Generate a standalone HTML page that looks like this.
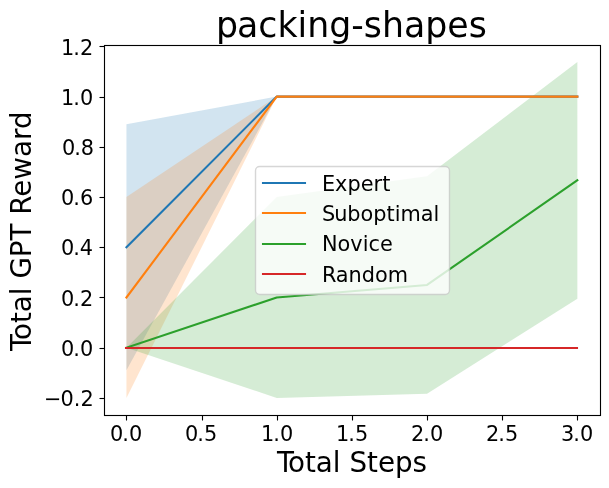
<!DOCTYPE html>
<html lang="en">
<head>
<meta charset="utf-8">
<title>packing-shapes</title>
<style>
html,body{margin:0;padding:0;background:#fff;overflow:hidden;}
svg{display:block;}
text{font-family:"DejaVu Sans","Liberation Sans",sans-serif;fill:#000;}
.tk{font-size:20.8333px;}
.lb{font-size:27.7778px;}
.tt{font-size:34.7222px;}
.sp{stroke:#000;stroke-width:1.111;fill:none;}
.ln{fill:none;stroke-width:2.083;stroke-linecap:square;stroke-linejoin:round;}
</style>
</head>
<body>
<svg width="609" height="488" viewBox="0 0 609 488">
<rect x="0" y="0" width="609" height="488" fill="#fff"/>
<clipPath id="axclip"><rect x="104" y="45" width="496" height="370"/></clipPath>
<g clip-path="url(#axclip)">
 <polygon points="126.448,124.240 126.448,370.275 276.751,96.593" fill="#1f77b4" fill-opacity="0.2"/>
 <polygon points="126.448,197.036 126.448,397.922 276.751,96.593" fill="#ff7f0e" fill-opacity="0.2"/>
 <polygon points="126.448,347.701 276.751,397.922 427.054,393.657 577.357,298.669 577.357,61.922 427.054,176.191 276.751,197.036" fill="#2ca02c" fill-opacity="0.2"/>
</g>
<g class="sp">
 <line x1="126.5" y1="415.5" x2="126.5" y2="420.5"/>
 <line x1="202.5" y1="415.5" x2="202.5" y2="420.5"/>
 <line x1="277.5" y1="415.5" x2="277.5" y2="420.5"/>
 <line x1="352.5" y1="415.5" x2="352.5" y2="420.5"/>
 <line x1="427.5" y1="415.5" x2="427.5" y2="420.5"/>
 <line x1="502.5" y1="415.5" x2="502.5" y2="420.5"/>
 <line x1="577.5" y1="415.5" x2="577.5" y2="420.5"/>
 <line x1="104.5" y1="398.5" x2="99.5" y2="398.5"/>
 <line x1="104.5" y1="348.5" x2="99.5" y2="348.5"/>
 <line x1="104.5" y1="297.5" x2="99.5" y2="297.5"/>
 <line x1="104.5" y1="247.5" x2="99.5" y2="247.5"/>
 <line x1="104.5" y1="197.5" x2="99.5" y2="197.5"/>
 <line x1="104.5" y1="147.5" x2="99.5" y2="147.5"/>
 <line x1="104.5" y1="97.5" x2="99.5" y2="97.5"/>
 <line x1="104.5" y1="46.5" x2="99.5" y2="46.5"/>
</g>
<text id="t0" class="tk" x="110 122.25 128.875" y="441">0.0</text>
<text id="t1" class="tk" x="185 197.25 203.875" y="441">0.5</text>
<text id="t2" class="tk" x="261 273.25 279.875" y="441">1.0</text>
<text id="t3" class="tk" x="336 348.25 354.875" y="441">1.5</text>
<text id="t4" class="tk" x="411 423.25 429.875" y="441">2.0</text>
<text id="t5" class="tk" x="486 498.25 504.875" y="441">2.5</text>
<text id="t6" class="tk" x="561 573.25 579.875" y="441">3.0</text>
<text id="t7" class="lb" x="276.875 288 304.875 315.75 332.75 340.5 349.375 367 377.875 394.875 412.5" y="472">Total Steps</text>
<text id="t8" class="tk" x="44 60.5 73.75 80.375" y="406">−0.2</text>
<text id="t9" class="tk" x="61 73.25 79.875" y="356">0.0</text>
<text id="t10" class="tk" x="61 73.25 79.875" y="306">0.2</text>
<text id="t11" class="tk" x="60.875 73.125 79.75" y="255">0.4</text>
<text id="t12" class="tk" x="61 73.25 79.875" y="205">0.6</text>
<text id="t13" class="tk" x="61.875 74.125 80.75" y="155">0.8</text>
<text id="t14" class="tk" x="61 73.25 79.875" y="105">1.0</text>
<text id="t15" class="tk" x="61 73.25 79.875" y="55">1.2</text>
<text id="t16" class="lb" transform="translate(31 352) rotate(-90)" x="1 12.125 29 39.875 56.875 64.625 73.5 94.875 111.625 128.5 137.375 155.375 172.375 195.125 212.125 223.125" y="0">Total GPT Reward</text>
<text id="t17" class="tt" x="215.875 237 258.25 277.375 297.5 307.125 329.125 351.125 363.75 381.875 403.875 425.125 447.25 468.625" y="37">packing-shapes</text>
<g clip-path="url(#axclip)">
 <polyline class="ln" points="126.448,247.258 276.751,96.593 427.054,96.593 577.357,96.593" stroke="#1f77b4"/>
 <polyline class="ln" points="126.448,297.479 276.751,96.593 427.054,96.593 577.357,96.593" stroke="#ff7f0e"/>
 <polyline class="ln" points="126.448,347.701 276.751,297.479 427.054,284.924 577.357,180.296" stroke="#2ca02c"/>
 <polyline class="ln" points="126.000,348.000 577.000,348.000" stroke="#d62728"/>
</g>
<rect class="sp" x="104.5" y="45.5" width="496" height="370" stroke-linejoin="miter"/>
<rect x="255.5" y="166.5" width="194" height="128" rx="4.17" ry="4.17" fill="#fff" stroke="#ccc" stroke-width="1.389" opacity="0.8"/>
<line class="ln" x1="263" y1="183" x2="305" y2="183" stroke="#1f77b4"/>
<line class="ln" x1="263" y1="213" x2="305" y2="213" stroke="#ff7f0e"/>
<line class="ln" x1="263" y1="244" x2="305" y2="244" stroke="#2ca02c"/>
<line class="ln" x1="263" y1="274" x2="305" y2="274" stroke="#d62728"/>
<text id="t18" class="tk" x="321.875 335 347.375 360.625 373.5 382.125" y="191">Expert</text>
<text id="t19" class="tk" x="321.875 334.125 347.25 360.5 373.25 386.5 394.625 400.5 420.75 433.5" y="221">Suboptimal</text>
<text id="t20" class="tk" x="322 337.5 350.25 362.625 368.5 380" y="251">Novice</text>
<text id="t21" class="tk" x="321.875 335.75 348.5 361.625 374.875 387.625" y="282">Random</text>
</svg>
</body>
</html>
